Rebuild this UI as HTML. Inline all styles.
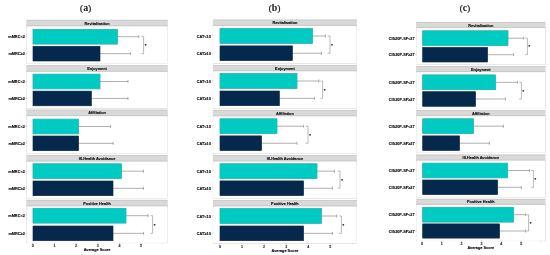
<!DOCTYPE html>
<html><head><meta charset="utf-8"><title>Figure</title>
<style>html,body{margin:0;padding:0;background:#fff}body{width:550px;height:255px;overflow:hidden}</style>
</head><body>
<svg width="550" height="255" viewBox="0 0 550 255" style="display:block">
<rect width="550" height="255" fill="#fff"/>
<g font-family="Liberation Sans, Arial, sans-serif" font-weight="bold" font-size="3.85" fill="#000" stroke="#000" stroke-width="0.1" paint-order="stroke">
<rect x="26.60" y="26.10" width="140.90" height="36.90" fill="#fff" stroke="#c6c6c6" stroke-width="0.6"/>
<rect x="26.30" y="20.00" width="141.50" height="6.10" fill="#d9d9d9" stroke="none"/>
<path d="M26.30 20.20H167.80M26.30 25.90H167.80" stroke="#aaaaaa" stroke-width="0.4" fill="none"/>
<text x="97.05" y="24.55" text-anchor="middle">Revitalisation</text>
<path d="M117.40 36.70H138.80M138.80 35.20V38.20" stroke="#6e6e6e" stroke-width="0.55" fill="none"/>
<path d="M100.00 53.65H130.60M130.60 52.15V55.15" stroke="#6e6e6e" stroke-width="0.55" fill="none"/>
<rect x="33.00" y="29.30" width="84.40" height="14.80" fill="#00cbc2" stroke="#0a7f7c" stroke-width="0.6"/>
<rect x="33.00" y="46.30" width="67.00" height="14.70" fill="#05284d" stroke="#02152c" stroke-width="0.6"/>
<path d="M141.30 36.70H143.60V53.65H141.30" stroke="#777" stroke-width="0.5" fill="none"/>
<text x="145.60" y="47.17" text-anchor="middle" font-size="4.2">*</text>
<text x="24.80" y="38.30" text-anchor="end">mMRC&lt;2</text>
<text x="24.80" y="55.25" text-anchor="end">mMRC≥2</text>
<path d="M25.70 36.70H26.60M25.70 53.65H26.60" stroke="#666" stroke-width="0.4"/>
<rect x="26.60" y="71.50" width="140.90" height="36.70" fill="#fff" stroke="#c6c6c6" stroke-width="0.6"/>
<rect x="26.30" y="65.40" width="141.50" height="6.10" fill="#d9d9d9" stroke="none"/>
<path d="M26.30 65.60H167.80M26.30 71.30H167.80" stroke="#aaaaaa" stroke-width="0.4" fill="none"/>
<text x="97.05" y="69.95" text-anchor="middle">Enjoyment</text>
<path d="M100.00 81.50H128.00M128.00 80.00V83.00" stroke="#6e6e6e" stroke-width="0.55" fill="none"/>
<path d="M91.40 98.45H128.00M128.00 96.95V99.95" stroke="#6e6e6e" stroke-width="0.55" fill="none"/>
<rect x="33.00" y="74.10" width="67.00" height="14.80" fill="#00cbc2" stroke="#0a7f7c" stroke-width="0.6"/>
<rect x="33.00" y="91.10" width="58.40" height="14.70" fill="#05284d" stroke="#02152c" stroke-width="0.6"/>
<text x="24.80" y="83.10" text-anchor="end">mMRC&lt;2</text>
<text x="24.80" y="100.05" text-anchor="end">mMRC≥2</text>
<path d="M25.70 81.50H26.60M25.70 98.45H26.60" stroke="#666" stroke-width="0.4"/>
<rect x="26.60" y="115.90" width="140.90" height="37.10" fill="#fff" stroke="#c6c6c6" stroke-width="0.6"/>
<rect x="26.30" y="109.80" width="141.50" height="6.10" fill="#d9d9d9" stroke="none"/>
<path d="M26.30 110.00H167.80M26.30 115.70H167.80" stroke="#aaaaaa" stroke-width="0.4" fill="none"/>
<text x="97.05" y="114.35" text-anchor="middle">Affiliation</text>
<path d="M78.60 126.50H110.60M110.60 125.00V128.00" stroke="#6e6e6e" stroke-width="0.55" fill="none"/>
<path d="M78.60 143.35H113.20M113.20 141.85V144.85" stroke="#6e6e6e" stroke-width="0.55" fill="none"/>
<rect x="33.00" y="119.10" width="45.60" height="14.80" fill="#00cbc2" stroke="#0a7f7c" stroke-width="0.6"/>
<rect x="33.00" y="136.00" width="45.60" height="14.70" fill="#05284d" stroke="#02152c" stroke-width="0.6"/>
<text x="24.80" y="128.10" text-anchor="end">mMRC&lt;2</text>
<text x="24.80" y="144.95" text-anchor="end">mMRC≥2</text>
<path d="M25.70 126.50H26.60M25.70 143.35H26.60" stroke="#666" stroke-width="0.4"/>
<rect x="26.60" y="161.30" width="140.90" height="36.70" fill="#fff" stroke="#c6c6c6" stroke-width="0.6"/>
<rect x="26.30" y="155.20" width="141.50" height="6.10" fill="#d9d9d9" stroke="none"/>
<path d="M26.30 155.40H167.80M26.30 161.10H167.80" stroke="#aaaaaa" stroke-width="0.4" fill="none"/>
<text x="97.05" y="159.75" text-anchor="middle">Ill-Health Avoidance</text>
<path d="M121.60 171.20H143.40M143.40 169.70V172.70" stroke="#6e6e6e" stroke-width="0.55" fill="none"/>
<path d="M113.00 188.35H143.40M143.40 186.85V189.85" stroke="#6e6e6e" stroke-width="0.55" fill="none"/>
<rect x="33.00" y="163.80" width="88.60" height="14.80" fill="#00cbc2" stroke="#0a7f7c" stroke-width="0.6"/>
<rect x="33.00" y="181.00" width="80.00" height="14.70" fill="#05284d" stroke="#02152c" stroke-width="0.6"/>
<text x="24.80" y="172.80" text-anchor="end">mMRC&lt;2</text>
<text x="24.80" y="189.95" text-anchor="end">mMRC≥2</text>
<path d="M25.70 171.20H26.60M25.70 188.35H26.60" stroke="#666" stroke-width="0.4"/>
<rect x="26.60" y="206.10" width="140.90" height="36.70" fill="#fff" stroke="#c6c6c6" stroke-width="0.6"/>
<rect x="26.30" y="200.00" width="141.50" height="6.10" fill="#d9d9d9" stroke="none"/>
<path d="M26.30 200.20H167.80M26.30 205.90H167.80" stroke="#aaaaaa" stroke-width="0.4" fill="none"/>
<text x="97.05" y="204.55" text-anchor="middle">Positive Health</text>
<path d="M126.00 215.70H148.00M148.00 214.20V217.20" stroke="#6e6e6e" stroke-width="0.55" fill="none"/>
<path d="M113.00 233.35H143.60M143.60 231.85V234.85" stroke="#6e6e6e" stroke-width="0.55" fill="none"/>
<rect x="33.00" y="208.30" width="93.00" height="14.80" fill="#00cbc2" stroke="#0a7f7c" stroke-width="0.6"/>
<rect x="33.00" y="226.00" width="80.00" height="14.70" fill="#05284d" stroke="#02152c" stroke-width="0.6"/>
<path d="M150.30 215.70H152.60V233.35H150.30" stroke="#777" stroke-width="0.5" fill="none"/>
<text x="154.60" y="226.53" text-anchor="middle" font-size="4.2">*</text>
<text x="24.80" y="217.30" text-anchor="end">mMRC&lt;2</text>
<text x="24.80" y="234.95" text-anchor="end">mMRC≥2</text>
<path d="M25.70 215.70H26.60M25.70 233.35H26.60" stroke="#666" stroke-width="0.4"/>
<path d="M32.80 242.80v1" stroke="#666" stroke-width="0.4"/>
<text x="32.80" y="247.00" text-anchor="middle" font-size="3.6" stroke-width="0.08" fill="#1a1a1a">0</text>
<path d="M54.45 242.80v1" stroke="#666" stroke-width="0.4"/>
<text x="54.45" y="247.00" text-anchor="middle" font-size="3.6" stroke-width="0.08" fill="#1a1a1a">1</text>
<path d="M76.10 242.80v1" stroke="#666" stroke-width="0.4"/>
<text x="76.10" y="247.00" text-anchor="middle" font-size="3.6" stroke-width="0.08" fill="#1a1a1a">2</text>
<path d="M97.75 242.80v1" stroke="#666" stroke-width="0.4"/>
<text x="97.75" y="247.00" text-anchor="middle" font-size="3.6" stroke-width="0.08" fill="#1a1a1a">3</text>
<path d="M119.40 242.80v1" stroke="#666" stroke-width="0.4"/>
<text x="119.40" y="247.00" text-anchor="middle" font-size="3.6" stroke-width="0.08" fill="#1a1a1a">4</text>
<path d="M141.05 242.80v1" stroke="#666" stroke-width="0.4"/>
<text x="141.05" y="247.00" text-anchor="middle" font-size="3.6" stroke-width="0.08" fill="#1a1a1a">5</text>
<path d="M162.70 242.80v1" stroke="#999" stroke-width="0.4"/>
<text x="97.05" y="251.00" text-anchor="middle">Average Score</text>
<rect x="213.20" y="25.60" width="143.40" height="37.70" fill="#fff" stroke="#c6c6c6" stroke-width="0.6"/>
<rect x="212.90" y="19.70" width="144.00" height="5.90" fill="#d9d9d9" stroke="none"/>
<path d="M212.90 19.90H356.90M212.90 25.40H356.90" stroke="#aaaaaa" stroke-width="0.4" fill="none"/>
<text x="284.90" y="24.15" text-anchor="middle">Revitalisation</text>
<path d="M312.60 36.00H325.40M325.40 34.50V37.50" stroke="#6e6e6e" stroke-width="0.55" fill="none"/>
<path d="M292.40 53.25H321.40M321.40 51.75V54.75" stroke="#6e6e6e" stroke-width="0.55" fill="none"/>
<rect x="220.00" y="28.60" width="92.60" height="14.80" fill="#00cbc2" stroke="#0a7f7c" stroke-width="0.6"/>
<rect x="220.00" y="45.90" width="72.40" height="14.70" fill="#05284d" stroke="#02152c" stroke-width="0.6"/>
<path d="M327.70 36.00H330.00V53.25H327.70" stroke="#777" stroke-width="0.5" fill="none"/>
<text x="332.00" y="46.62" text-anchor="middle" font-size="4.2">*</text>
<text x="210.80" y="37.60" text-anchor="end">CAT&lt;10</text>
<text x="210.80" y="54.85" text-anchor="end">CAT≥10</text>
<path d="M212.30 36.00H213.20M212.30 53.25H213.20" stroke="#666" stroke-width="0.4"/>
<rect x="213.20" y="71.10" width="143.40" height="37.30" fill="#fff" stroke="#c6c6c6" stroke-width="0.6"/>
<rect x="212.90" y="65.20" width="144.00" height="5.90" fill="#d9d9d9" stroke="none"/>
<path d="M212.90 65.40H356.90M212.90 70.90H356.90" stroke="#aaaaaa" stroke-width="0.4" fill="none"/>
<text x="284.90" y="69.65" text-anchor="middle">Enjoyment</text>
<path d="M297.00 81.00H319.00M319.00 79.50V82.50" stroke="#6e6e6e" stroke-width="0.55" fill="none"/>
<path d="M279.40 98.35H314.60M314.60 96.85V99.85" stroke="#6e6e6e" stroke-width="0.55" fill="none"/>
<rect x="220.00" y="73.60" width="77.00" height="14.80" fill="#00cbc2" stroke="#0a7f7c" stroke-width="0.6"/>
<rect x="220.00" y="91.00" width="59.40" height="14.70" fill="#05284d" stroke="#02152c" stroke-width="0.6"/>
<path d="M320.30 81.00H322.60V98.35H320.30" stroke="#777" stroke-width="0.5" fill="none"/>
<text x="324.60" y="91.67" text-anchor="middle" font-size="4.2">*</text>
<text x="210.80" y="82.60" text-anchor="end">CAT&lt;10</text>
<text x="210.80" y="99.95" text-anchor="end">CAT≥10</text>
<path d="M212.30 81.00H213.20M212.30 98.35H213.20" stroke="#666" stroke-width="0.4"/>
<rect x="213.20" y="116.10" width="143.40" height="37.30" fill="#fff" stroke="#c6c6c6" stroke-width="0.6"/>
<rect x="212.90" y="110.20" width="144.00" height="5.90" fill="#d9d9d9" stroke="none"/>
<path d="M212.90 110.40H356.90M212.90 115.90H356.90" stroke="#aaaaaa" stroke-width="0.4" fill="none"/>
<text x="284.90" y="114.65" text-anchor="middle">Affiliation</text>
<path d="M277.00 126.20H303.60M303.60 124.70V127.70" stroke="#6e6e6e" stroke-width="0.55" fill="none"/>
<path d="M261.60 143.25H297.00M297.00 141.75V144.75" stroke="#6e6e6e" stroke-width="0.55" fill="none"/>
<rect x="220.00" y="118.80" width="57.00" height="14.80" fill="#00cbc2" stroke="#0a7f7c" stroke-width="0.6"/>
<rect x="220.00" y="135.90" width="41.60" height="14.70" fill="#05284d" stroke="#02152c" stroke-width="0.6"/>
<path d="M305.70 126.20H308.00V143.25H305.70" stroke="#777" stroke-width="0.5" fill="none"/>
<text x="310.00" y="136.72" text-anchor="middle" font-size="4.2">*</text>
<text x="210.80" y="127.80" text-anchor="end">CAT&lt;10</text>
<text x="210.80" y="144.85" text-anchor="end">CAT≥10</text>
<path d="M212.30 126.20H213.20M212.30 143.25H213.20" stroke="#666" stroke-width="0.4"/>
<rect x="213.20" y="161.20" width="143.40" height="37.20" fill="#fff" stroke="#c6c6c6" stroke-width="0.6"/>
<rect x="212.90" y="155.30" width="144.00" height="5.90" fill="#d9d9d9" stroke="none"/>
<path d="M212.90 155.50H356.90M212.90 161.00H356.90" stroke="#aaaaaa" stroke-width="0.4" fill="none"/>
<text x="284.90" y="159.75" text-anchor="middle">Ill-Health Avoidance</text>
<path d="M317.00 171.20H334.40M334.40 169.70V172.70" stroke="#6e6e6e" stroke-width="0.55" fill="none"/>
<path d="M303.60 188.25H332.40M332.40 186.75V189.75" stroke="#6e6e6e" stroke-width="0.55" fill="none"/>
<rect x="220.00" y="163.80" width="97.00" height="14.80" fill="#00cbc2" stroke="#0a7f7c" stroke-width="0.6"/>
<rect x="220.00" y="180.90" width="83.60" height="14.70" fill="#05284d" stroke="#02152c" stroke-width="0.6"/>
<path d="M337.70 171.20H340.00V188.25H337.70" stroke="#777" stroke-width="0.5" fill="none"/>
<text x="342.00" y="181.73" text-anchor="middle" font-size="4.2">*</text>
<text x="210.80" y="172.80" text-anchor="end">CAT&lt;10</text>
<text x="210.80" y="189.85" text-anchor="end">CAT≥10</text>
<path d="M212.30 171.20H213.20M212.30 188.25H213.20" stroke="#666" stroke-width="0.4"/>
<rect x="213.20" y="206.20" width="143.40" height="37.10" fill="#fff" stroke="#c6c6c6" stroke-width="0.6"/>
<rect x="212.90" y="200.30" width="144.00" height="5.90" fill="#d9d9d9" stroke="none"/>
<path d="M212.90 200.50H356.90M212.90 206.00H356.90" stroke="#aaaaaa" stroke-width="0.4" fill="none"/>
<text x="284.90" y="204.75" text-anchor="middle">Positive Health</text>
<path d="M321.40 216.00H336.60M336.60 214.50V217.50" stroke="#6e6e6e" stroke-width="0.55" fill="none"/>
<path d="M303.60 233.35H332.40M332.40 231.85V234.85" stroke="#6e6e6e" stroke-width="0.55" fill="none"/>
<rect x="220.00" y="208.60" width="101.40" height="14.80" fill="#00cbc2" stroke="#0a7f7c" stroke-width="0.6"/>
<rect x="220.00" y="226.00" width="83.60" height="14.70" fill="#05284d" stroke="#02152c" stroke-width="0.6"/>
<path d="M339.10 216.00H341.40V233.35H339.10" stroke="#777" stroke-width="0.5" fill="none"/>
<text x="343.40" y="226.68" text-anchor="middle" font-size="4.2">*</text>
<text x="210.80" y="217.60" text-anchor="end">CAT&lt;10</text>
<text x="210.80" y="234.95" text-anchor="end">CAT≥10</text>
<path d="M212.30 216.00H213.20M212.30 233.35H213.20" stroke="#666" stroke-width="0.4"/>
<path d="M219.90 243.30v1" stroke="#666" stroke-width="0.4"/>
<text x="219.90" y="247.50" text-anchor="middle" font-size="3.6" stroke-width="0.08" fill="#1a1a1a">0</text>
<path d="M241.98 243.30v1" stroke="#666" stroke-width="0.4"/>
<text x="241.98" y="247.50" text-anchor="middle" font-size="3.6" stroke-width="0.08" fill="#1a1a1a">1</text>
<path d="M264.06 243.30v1" stroke="#666" stroke-width="0.4"/>
<text x="264.06" y="247.50" text-anchor="middle" font-size="3.6" stroke-width="0.08" fill="#1a1a1a">2</text>
<path d="M286.14 243.30v1" stroke="#666" stroke-width="0.4"/>
<text x="286.14" y="247.50" text-anchor="middle" font-size="3.6" stroke-width="0.08" fill="#1a1a1a">3</text>
<path d="M308.22 243.30v1" stroke="#666" stroke-width="0.4"/>
<text x="308.22" y="247.50" text-anchor="middle" font-size="3.6" stroke-width="0.08" fill="#1a1a1a">4</text>
<path d="M330.30 243.30v1" stroke="#666" stroke-width="0.4"/>
<text x="330.30" y="247.50" text-anchor="middle" font-size="3.6" stroke-width="0.08" fill="#1a1a1a">5</text>
<path d="M352.38 243.30v1" stroke="#999" stroke-width="0.4"/>
<text x="284.90" y="251.80" text-anchor="middle">Average Score</text>
<rect x="416.40" y="27.80" width="128.80" height="36.60" fill="#fff" stroke="#c6c6c6" stroke-width="0.6"/>
<rect x="416.10" y="22.20" width="129.40" height="5.60" fill="#d9d9d9" stroke="none"/>
<path d="M416.10 22.40H545.50M416.10 27.60H545.50" stroke="#aaaaaa" stroke-width="0.4" fill="none"/>
<text x="480.80" y="26.50" text-anchor="middle">Revitalisation</text>
<path d="M508.00 38.20H523.60M523.60 36.70V39.70" stroke="#6e6e6e" stroke-width="0.55" fill="none"/>
<path d="M487.60 54.70H513.60M513.60 53.20V56.20" stroke="#6e6e6e" stroke-width="0.55" fill="none"/>
<rect x="422.70" y="30.80" width="85.30" height="14.80" fill="#00cbc2" stroke="#0a7f7c" stroke-width="0.6"/>
<rect x="422.70" y="47.40" width="64.90" height="14.60" fill="#05284d" stroke="#02152c" stroke-width="0.6"/>
<path d="M525.10 38.20H527.40V54.70H525.10" stroke="#777" stroke-width="0.5" fill="none"/>
<text x="529.40" y="48.45" text-anchor="middle" font-size="4.2">*</text>
<text x="414.60" y="39.80" text-anchor="end">CIS20P-SF&lt;27</text>
<text x="414.60" y="56.30" text-anchor="end">CIS20P-SF≥27</text>
<path d="M415.50 38.20H416.40M415.50 54.70H416.40" stroke="#666" stroke-width="0.4"/>
<rect x="416.40" y="71.90" width="128.80" height="36.80" fill="#fff" stroke="#c6c6c6" stroke-width="0.6"/>
<rect x="416.10" y="66.30" width="129.40" height="5.60" fill="#d9d9d9" stroke="none"/>
<path d="M416.10 66.50H545.50M416.10 71.70H545.50" stroke="#aaaaaa" stroke-width="0.4" fill="none"/>
<text x="480.80" y="70.60" text-anchor="middle">Enjoyment</text>
<path d="M495.60 82.30H517.40M517.40 80.80V83.80" stroke="#6e6e6e" stroke-width="0.55" fill="none"/>
<path d="M475.60 99.00H505.40M505.40 97.50V100.50" stroke="#6e6e6e" stroke-width="0.55" fill="none"/>
<rect x="422.70" y="74.90" width="72.90" height="14.80" fill="#00cbc2" stroke="#0a7f7c" stroke-width="0.6"/>
<rect x="422.70" y="91.70" width="52.90" height="14.60" fill="#05284d" stroke="#02152c" stroke-width="0.6"/>
<path d="M519.10 82.30H521.40V99.00H519.10" stroke="#777" stroke-width="0.5" fill="none"/>
<text x="523.40" y="92.65" text-anchor="middle" font-size="4.2">*</text>
<text x="414.60" y="83.90" text-anchor="end">CIS20P-SF&lt;27</text>
<text x="414.60" y="100.60" text-anchor="end">CIS20P-SF≥27</text>
<path d="M415.50 82.30H416.40M415.50 99.00H416.40" stroke="#666" stroke-width="0.4"/>
<rect x="416.40" y="115.90" width="128.80" height="36.70" fill="#fff" stroke="#c6c6c6" stroke-width="0.6"/>
<rect x="416.10" y="110.30" width="129.40" height="5.60" fill="#d9d9d9" stroke="none"/>
<path d="M416.10 110.50H545.50M416.10 115.70H545.50" stroke="#aaaaaa" stroke-width="0.4" fill="none"/>
<text x="480.80" y="114.60" text-anchor="middle">Affiliation</text>
<path d="M473.60 126.20H503.40M503.40 124.70V127.70" stroke="#6e6e6e" stroke-width="0.55" fill="none"/>
<path d="M459.60 143.20H489.40M489.40 141.70V144.70" stroke="#6e6e6e" stroke-width="0.55" fill="none"/>
<rect x="422.70" y="118.80" width="50.90" height="14.80" fill="#00cbc2" stroke="#0a7f7c" stroke-width="0.6"/>
<rect x="422.70" y="135.90" width="36.90" height="14.60" fill="#05284d" stroke="#02152c" stroke-width="0.6"/>
<text x="414.60" y="127.80" text-anchor="end">CIS20P-SF&lt;27</text>
<text x="414.60" y="144.80" text-anchor="end">CIS20P-SF≥27</text>
<path d="M415.50 126.20H416.40M415.50 143.20H416.40" stroke="#666" stroke-width="0.4"/>
<rect x="416.40" y="160.30" width="128.80" height="36.70" fill="#fff" stroke="#c6c6c6" stroke-width="0.6"/>
<rect x="416.10" y="154.70" width="129.40" height="5.60" fill="#d9d9d9" stroke="none"/>
<path d="M416.10 154.90H545.50M416.10 160.10H545.50" stroke="#aaaaaa" stroke-width="0.4" fill="none"/>
<text x="480.80" y="159.00" text-anchor="middle">Ill-Health Avoidance</text>
<path d="M507.60 170.50H529.40M529.40 169.00V172.00" stroke="#6e6e6e" stroke-width="0.55" fill="none"/>
<path d="M497.60 187.30H521.40M521.40 185.80V188.80" stroke="#6e6e6e" stroke-width="0.55" fill="none"/>
<rect x="422.70" y="163.10" width="84.90" height="14.80" fill="#00cbc2" stroke="#0a7f7c" stroke-width="0.6"/>
<rect x="422.70" y="180.00" width="74.90" height="14.60" fill="#05284d" stroke="#02152c" stroke-width="0.6"/>
<path d="M531.10 170.50H533.40V187.30H531.10" stroke="#777" stroke-width="0.5" fill="none"/>
<text x="535.40" y="180.90" text-anchor="middle" font-size="4.2">*</text>
<text x="414.60" y="172.10" text-anchor="end">CIS20P-SF&lt;27</text>
<text x="414.60" y="188.90" text-anchor="end">CIS20P-SF≥27</text>
<path d="M415.50 170.50H416.40M415.50 187.30H416.40" stroke="#666" stroke-width="0.4"/>
<rect x="416.40" y="204.60" width="128.80" height="36.20" fill="#fff" stroke="#c6c6c6" stroke-width="0.6"/>
<rect x="416.10" y="199.00" width="129.40" height="5.60" fill="#d9d9d9" stroke="none"/>
<path d="M416.10 199.20H545.50M416.10 204.40H545.50" stroke="#aaaaaa" stroke-width="0.4" fill="none"/>
<text x="480.80" y="203.30" text-anchor="middle">Positive Health</text>
<path d="M513.60 214.70H525.60M525.60 213.20V216.20" stroke="#6e6e6e" stroke-width="0.55" fill="none"/>
<path d="M499.60 231.00H525.60M525.60 229.50V232.50" stroke="#6e6e6e" stroke-width="0.55" fill="none"/>
<rect x="422.70" y="207.30" width="90.90" height="14.80" fill="#00cbc2" stroke="#0a7f7c" stroke-width="0.6"/>
<rect x="422.70" y="223.90" width="76.90" height="14.20" fill="#05284d" stroke="#02152c" stroke-width="0.6"/>
<path d="M526.30 214.70H528.60V231.00H526.30" stroke="#777" stroke-width="0.5" fill="none"/>
<text x="530.60" y="224.85" text-anchor="middle" font-size="4.2">*</text>
<text x="414.60" y="216.30" text-anchor="end">CIS20P-SF&lt;27</text>
<text x="414.60" y="232.60" text-anchor="end">CIS20P-SF≥27</text>
<path d="M415.50 214.70H416.40M415.50 231.00H416.40" stroke="#666" stroke-width="0.4"/>
<path d="M421.90 240.80v1" stroke="#666" stroke-width="0.4"/>
<text x="421.90" y="245.00" text-anchor="middle" font-size="3.6" stroke-width="0.08" fill="#1a1a1a">0</text>
<path d="M441.75 240.80v1" stroke="#666" stroke-width="0.4"/>
<text x="441.75" y="245.00" text-anchor="middle" font-size="3.6" stroke-width="0.08" fill="#1a1a1a">1</text>
<path d="M461.60 240.80v1" stroke="#666" stroke-width="0.4"/>
<text x="461.60" y="245.00" text-anchor="middle" font-size="3.6" stroke-width="0.08" fill="#1a1a1a">2</text>
<path d="M481.45 240.80v1" stroke="#666" stroke-width="0.4"/>
<text x="481.45" y="245.00" text-anchor="middle" font-size="3.6" stroke-width="0.08" fill="#1a1a1a">3</text>
<path d="M501.30 240.80v1" stroke="#666" stroke-width="0.4"/>
<text x="501.30" y="245.00" text-anchor="middle" font-size="3.6" stroke-width="0.08" fill="#1a1a1a">4</text>
<path d="M521.15 240.80v1" stroke="#666" stroke-width="0.4"/>
<text x="521.15" y="245.00" text-anchor="middle" font-size="3.6" stroke-width="0.08" fill="#1a1a1a">5</text>
<path d="M541.00 240.80v1" stroke="#999" stroke-width="0.4"/>
<text x="480.80" y="248.80" text-anchor="middle">Average Score</text>
</g>
<g font-family="Liberation Serif, Times New Roman, serif" font-weight="bold" font-size="9.6" fill="#111">
<text x="85.60" y="11.20" text-anchor="middle"><tspan font-weight="normal" font-size="8.7" dy="-0.4" stroke="#111" stroke-width="0.22">(</tspan><tspan dy="0.4" dx="0.15" font-size="9.9">a</tspan><tspan font-weight="normal" font-size="8.7" dy="-0.4" dx="0.15" stroke="#111" stroke-width="0.22">)</tspan></text>
<text x="274.60" y="11.20" text-anchor="middle"><tspan font-weight="normal" font-size="8.7" dy="-0.4" stroke="#111" stroke-width="0.22">(</tspan><tspan dy="0.4" dx="0.15" font-size="9.9">b</tspan><tspan font-weight="normal" font-size="8.7" dy="-0.4" dx="0.15" stroke="#111" stroke-width="0.22">)</tspan></text>
<text x="465.00" y="11.20" text-anchor="middle"><tspan font-weight="normal" font-size="8.7" dy="-0.4" stroke="#111" stroke-width="0.22">(</tspan><tspan dy="0.4" dx="0.15" font-size="9.9">c</tspan><tspan font-weight="normal" font-size="8.7" dy="-0.4" dx="0.15" stroke="#111" stroke-width="0.22">)</tspan></text>
</g>
</svg>
</body></html>
